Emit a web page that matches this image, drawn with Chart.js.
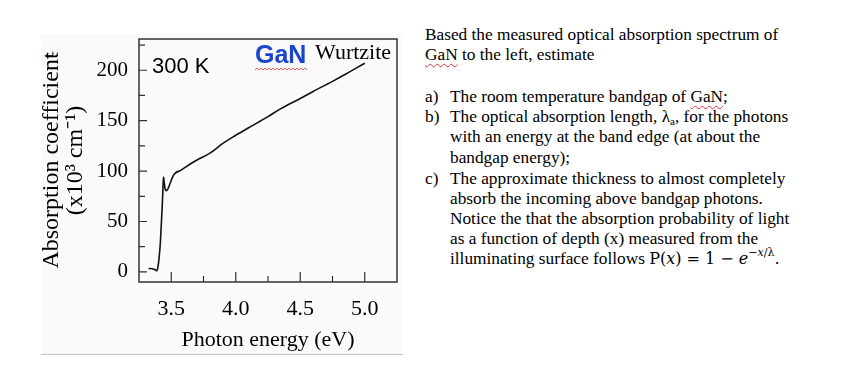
<!DOCTYPE html>
<html><head><meta charset="utf-8">
<script src="https://cdn.jsdelivr.net/npm/chart.js@4/dist/chart.umd.min.js"></script>
<style>
body{margin:0;background:#fff;width:843px;height:380px;overflow:hidden;position:relative}
#bg{position:absolute;left:41px;top:34px;width:362px;height:320px;background:#fafafa;border-bottom:1px solid #c4c4c4}
#wrap{position:absolute;left:0;top:0;width:420px;height:380px}
.ln{position:absolute;white-space:nowrap;line-height:20px;font-family:'Liberation Serif';font-size:17.3px;color:#000}
.sp{text-decoration:underline wavy #d33;text-decoration-thickness:1px;text-underline-offset:3px}
.m{font-family:'DejaVu Serif';font-size:16px}
sub{font-size:11px;vertical-align:-3px;line-height:0}
sup{font-size:11px;vertical-align:8px;line-height:0}
#ret{position:absolute;left:45px;top:48px;font-size:13px;color:#222;font-family:'DejaVu Sans'}
</style></head>
<body>
<div id="bg"></div>
<div id="ret">↵</div>
<div id="wrap"><canvas id="c" width="420" height="380"></canvas></div>

<div class="ln" style="left:425px;top:25px">Based the measured optical absorption spectrum of</div>
<div class="ln" style="left:425px;top:45px"><span class="sp">GaN</span> to the left, estimate</div>
<div class="ln" style="left:425px;top:87px">a)</div>
<div class="ln" style="left:450px;top:87px">The room temperature bandgap of <span class="sp">GaN</span>;</div>
<div class="ln" style="left:425px;top:107px">b)</div>
<div class="ln" style="left:450px;top:107px">The optical absorption length, λ<sub>a</sub>, for the photons</div>
<div class="ln" style="left:450px;top:127px">with an energy at the band edge (at about the</div>
<div class="ln" style="left:450px;top:148px">bandgap energy);</div>
<div class="ln" style="left:425px;top:169px">c)</div>
<div class="ln" style="left:450px;top:169px">The approximate thickness to almost completely</div>
<div class="ln" style="left:450px;top:189px">absorb the incoming above bandgap photons.</div>
<div class="ln" style="left:450px;top:209px">Notice the that the absorption probability of light</div>
<div class="ln" style="left:450px;top:229px">as a function of depth (x) measured from the</div>
<div class="ln" style="left:450px;top:249px">illuminating surface follows <span class="m">P(<i>x</i>) = 1 − <i>e</i><sup>−<i>x</i>/λ</sup>.</span></div>

<script>
const energy = [3.324, 3.35, 3.37, 3.389, 3.397, 3.405, 3.415, 3.422, 3.43, 3.436, 3.440, 3.446, 3.453, 3.461, 3.47, 3.48, 3.492, 3.51, 3.531, 3.57, 3.647, 3.70, 3.803, 3.9, 4.0, 4.1, 4.25, 4.35, 4.5, 4.6, 4.75, 4.85, 5.0];
const absorption = [3.4, 3.2, 2.5, 1.2, 5, 13, 28, 45, 65, 84, 94, 88, 82, 80.6, 81.5, 84, 88, 94, 98, 100.5, 107, 111, 118, 127.5, 135.5, 143, 154, 162, 172, 179, 189, 196, 207];
const xTicks = [3.5, 4.0, 4.5, 5.0];
const xMinor = [3.75, 4.25, 4.75];
const yTicks = [0, 50, 100, 150, 200];
const yMinor = [25, 75, 125, 175, 225];

const frame = {
  id: 'frame',
  afterDraw(chart) {
    const {ctx, chartArea: a, scales: {x, y}} = chart;
    ctx.save();
    ctx.strokeStyle = '#333';
    ctx.lineWidth = 1.5;
    ctx.strokeRect(a.left, a.top, a.right - a.left, a.bottom - a.top);
    ctx.lineWidth = 1.2;
    ctx.beginPath();
    xTicks.forEach(v => { const p = x.getPixelForValue(v); ctx.moveTo(p, a.bottom); ctx.lineTo(p, a.bottom - 10); });
    xMinor.forEach(v => { const p = x.getPixelForValue(v); ctx.moveTo(p, a.bottom); ctx.lineTo(p, a.bottom - 6); });
    yTicks.forEach(v => { const p = y.getPixelForValue(v); ctx.moveTo(a.left, p); ctx.lineTo(a.left + 8, p); });
    yMinor.forEach(v => { const p = y.getPixelForValue(v); ctx.moveTo(a.left, p); ctx.lineTo(a.left + 6, p); });
    ctx.stroke();
    ctx.textBaseline = 'middle';
    ctx.textAlign = 'left';
    ctx.fillStyle = '#000';
    ctx.font = '22px "Liberation Sans"';
    ctx.fillText('300 K', a.left + 13, a.top + 28);
    ctx.fillStyle = '#1a44cc';
    ctx.font = 'bold 25px "Liberation Sans"';
    ctx.fillText('GaN', a.left + 116, a.top + 17.5);
    const gw = ctx.measureText('GaN').width;
    ctx.fillStyle = '#000';
    ctx.font = '22px "Liberation Serif"';
    ctx.fillText('Wurtzite', a.left + 176, a.top + 14);
    // spell-check wavy underline
    ctx.strokeStyle = '#e04040';
    ctx.lineWidth = 0.8;
    ctx.beginPath();
    const uy = a.top + 30;
    for (let i = 0; i <= Math.ceil(gw / 2); i++) {
      const px = a.left + 116 + i * 2;
      const py = uy + (i % 2 ? -1 : 1);
      if (i === 0) ctx.moveTo(px, py); else ctx.lineTo(px, py);
    }
    ctx.stroke();
    ctx.restore();
  }
};

new Chart(document.getElementById('c'), {
  type: 'scatter',
  data: {
    datasets: [{
      data: energy.map((e, i) => ({x: e, y: absorption[i]})),
      showLine: true,
      borderColor: '#111',
      borderWidth: 1.6,
      pointRadius: 0,
      cubicInterpolationMode: 'monotone'
    }]
  },
  options: {
    responsive: false,
    animation: false,
    devicePixelRatio: 1,
    layout: {padding: {top: 39, right: 23, left: 0, bottom: 0}},
    plugins: {legend: {display: false}, tooltip: {enabled: false}},
    scales: {
      x: {
        type: 'linear', min: 3.25, max: 5.25,
        afterBuildTicks: s => { s.ticks = xTicks.map(v => ({value: v})); },
        afterFit: s => { s.height = 98; },
        ticks: {callback: v => Number(v).toFixed(1), font: {family: 'Liberation Serif', size: 22}, color: '#000', padding: 14, maxRotation: 0, autoSkip: false},
        grid: {display: false, drawTicks: false},
        border: {display: false},
        title: {display: true, text: 'Photon energy (eV)', font: {family: 'Liberation Serif', size: 22}, color: '#000', padding: {top: 0, bottom: 27}}
      },
      y: {
        type: 'linear', min: -10, max: 231,
        afterBuildTicks: s => { s.ticks = yTicks.map(v => ({value: v})); },
        afterFit: s => { s.width = 139; },
        ticks: {font: {family: 'Liberation Serif', size: 21}, color: '#000', padding: 11, autoSkip: false},
        grid: {display: false, drawTicks: false},
        border: {display: false},
        title: {display: true, text: ['Absorption coefficient', '(x10³ cm⁻¹)'], font: {family: 'Liberation Serif', size: 24, lineHeight: '24px'}, color: '#000', padding: {top: 40, bottom: 0}}
      }
    }
  },
  plugins: [frame]
});
</script>
</body></html>
